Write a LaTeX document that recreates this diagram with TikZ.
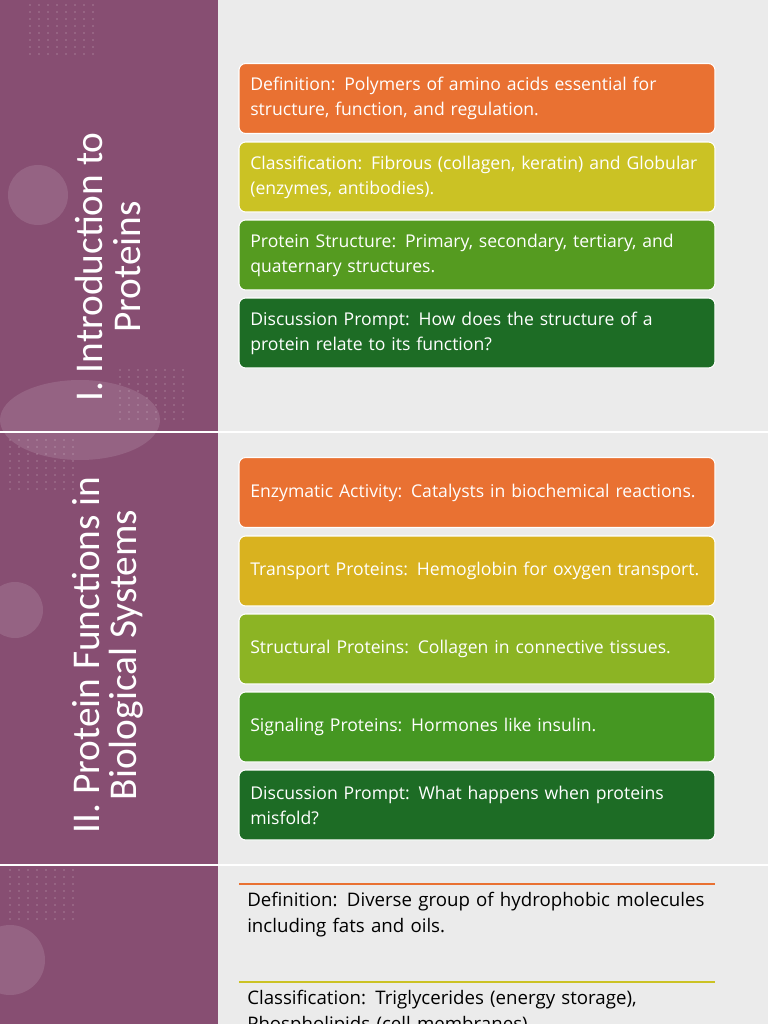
\documentclass[tikz,border=0pt]{standalone}
\usepackage{fontspec}
\setmainfont{Open Sans}
\newfontfamily\titlefont{Carlito}
\definecolor{purp}{HTML}{874E72}
\definecolor{bg}{HTML}{EBEBEB}
\definecolor{cor}{HTML}{E97132}
\definecolor{cyel}{HTML}{CBC224}
\definecolor{cgold}{HTML}{D9B21F}
\definecolor{clime}{HTML}{8CB424}
\definecolor{cgr}{HTML}{559B20}
\definecolor{cgr2}{HTML}{459722}
\definecolor{cdk}{HTML}{1D6C25}
\hyphenpenalty=10000
\exhyphenpenalty=10000
\begin{document}
\begin{tikzpicture}[x=0.75pt,y=-0.75pt,
 card/.style={draw=white,line width=0.8pt,rounded corners=5pt,minimum width=357pt,minimum height=52.5pt,text width=340pt,align=left,text=white,font=\fontsize{13.2}{18.7}\selectfont,inner sep=8pt},
 title/.style={rotate=90,text=white,align=center,font=\titlefont\fontsize{29.5}{28}\selectfont},
 plain/.style={text width=345pt,align=left,font=\fontsize{14}{19.5}\selectfont,anchor=north west,inner sep=0pt}]
\useasboundingbox (0,0) rectangle (768,1024);
\fill[bg] (0,0) rectangle (768,1024);
\fill[purp] (0,0) rectangle (218,1024);
\begin{scope}
\clip (0,0) rectangle (218,1024);
\fill[white,opacity=0.12] (38,195) circle (30);
\fill[white,opacity=0.12] (80,420) ellipse (80 and 40);
\fill[white,opacity=0.12] (15,610) circle (28);
\fill[white,opacity=0.12] (10,960) circle (35);
\foreach \i in {0,...,7}{\foreach \j in {0,...,7}{
 \fill[white,opacity=0.25] (30+\i*9,5+\j*7) circle (0.9);
 \fill[white,opacity=0.25] (120+\i*9,370+\j*7) circle (0.9);
 \fill[white,opacity=0.25] (10+\i*9,440+\j*7) circle (0.9);
 \fill[white,opacity=0.25] (10+\i*9,870+\j*7) circle (0.9);}}
\end{scope}
\draw[white,line width=1.2pt] (0,432) -- (768,432);
\draw[white,line width=1.2pt] (0,865) -- (768,865);
\node[title] (t1) at (108,267) {I. Introduction to\\Proteins};
\node[title] (t2) at (108,655) {II. Protein Functions in\\Biological Systems};
\node[title,anchor=east] (t3) at (89,1022) {to};
\node[card,fill=cor] (a1) at (477,98.5) {Definition: Polymers of amino acids essential for structure, function, and regulation.};
\node[card,fill=cyel] (a2) at (477,177) {Classification: Fibrous (collagen, keratin) and Globular (enzymes, antibodies).};
\node[card,fill=cgr] (a3) at (477,255) {Protein Structure: Primary, secondary, tertiary, and quaternary structures.};
\node[card,fill=cdk] (a4) at (477,333) {Discussion Prompt: How does the structure of a protein relate to its function?};
\node[card,fill=cor] (b1) at (477,492.5) {Enzymatic Activity: Catalysts in biochemical reactions.};
\node[card,fill=cgold] (b2) at (477,571) {Transport Proteins: Hemoglobin for oxygen transport.};
\node[card,fill=clime] (b3) at (477,649) {Structural Proteins: Collagen in connective tissues.};
\node[card,fill=cgr2] (b4) at (477,727) {Signaling Proteins: Hormones like insulin.};
\node[card,fill=cdk] (b5) at (477,805) {Discussion Prompt: What happens when proteins misfold?};
\coordinate (l1a) at (239,884); \coordinate (l1b) at (715,884);
\coordinate (l2a) at (239,982); \coordinate (l2b) at (715,982);
\draw[cor,line width=0.8pt] (l1a) -- (l1b);
\draw[cyel,line width=0.8pt] (l2a) -- (l2b);
\node[plain] (c1) at (247,892) {Definition: Diverse group of hydrophobic molecules including fats and oils.};
\node[plain] (c2) at (247,990) {Classification: Triglycerides (energy storage), Phospholipids (cell membranes)};
\end{tikzpicture}
\end{document}
